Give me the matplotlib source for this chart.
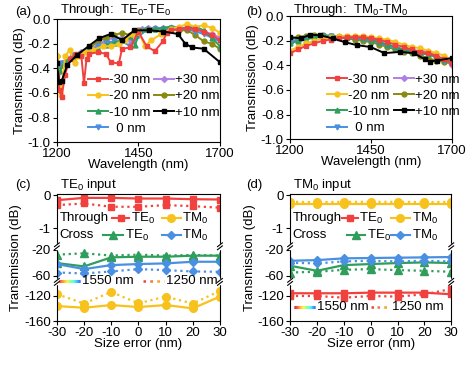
import numpy as np
import matplotlib
matplotlib.use("Agg")
import matplotlib.pyplot as plt
from matplotlib.collections import LineCollection
from matplotlib.ticker import FixedLocator, FixedFormatter

plt.rcParams["font.family"] = ["Liberation Sans", "DejaVu Sans"]
plt.rcParams["mathtext.fontset"] = "custom"
plt.rcParams["mathtext.rm"] = "Liberation Sans"
plt.rcParams["font.size"] = 9.5
plt.rcParams["axes.unicode_minus"] = False
plt.rcParams["xtick.major.size"] = 3
plt.rcParams["ytick.major.size"] = 3
plt.rcParams["xtick.major.pad"] = 1.5
plt.rcParams["ytick.major.pad"] = 1.5

# ---- (a) Through TE0-TE0 spectra ----
wl_a_m30 = [1200, 1208, 1215, 1225, 1240, 1260, 1275, 1283, 1291, 1300, 1325, 1350, 1365,
            1390, 1400, 1425, 1450, 1475, 1500, 1525, 1537, 1550, 1575, 1600, 1625, 1650, 1675, 1700]
t_a_m30 = [-0.45, -0.58, -0.63, -0.45, -0.32, -0.28, -0.30, -0.52, -0.32, -0.28, -0.27, -0.28, -0.35,
           -0.36, -0.24, -0.23, -0.10, -0.22, -0.26, -0.18, -0.11, -0.09, -0.08, -0.07, -0.08, -0.10, -0.13, -0.17]
wl_a_m20 = [1200, 1207, 1213, 1225, 1240, 1255, 1265, 1285, 1310, 1340, 1365, 1390, 1410, 1430,
            1450, 1470, 1490, 1520, 1550, 1575, 1600, 1625, 1650, 1675, 1700]
t_a_m20 = [-0.30, -0.55, -0.62, -0.30, -0.25, -0.36, -0.30, -0.27, -0.25, -0.22, -0.22, -0.20, -0.17, -0.12,
           -0.10, -0.22, -0.17, -0.12, -0.08, -0.06, -0.04, -0.06, -0.05, -0.07, -0.11]
wl_a_m10 = [1200, 1210, 1225, 1250, 1275, 1300, 1325, 1350, 1375, 1400, 1425, 1440, 1455, 1475,
            1500, 1525, 1550, 1575, 1600, 1625, 1650, 1675, 1700]
t_a_m10 = [-0.55, -0.42, -0.35, -0.30, -0.28, -0.26, -0.24, -0.21, -0.19, -0.17, -0.14, -0.21, -0.09, -0.08,
           -0.08, -0.07, -0.06, -0.07, -0.07, -0.06, -0.09, -0.15, -0.22]
wl_a_0 = [1200, 1215, 1230, 1250, 1275, 1300, 1325, 1350, 1375, 1400, 1425, 1450, 1475, 1500,
          1525, 1550, 1575, 1600, 1625, 1650, 1675, 1700]
t_a_0 = [-0.40, -0.36, -0.33, -0.30, -0.28, -0.26, -0.22, -0.19, -0.18, -0.18, -0.22, -0.14, -0.09, -0.08,
         -0.08, -0.07, -0.08, -0.08, -0.10, -0.12, -0.15, -0.18]
wl_a_p30 = [1200, 1215, 1230, 1250, 1275, 1300, 1325, 1350, 1375, 1400, 1425, 1440, 1460, 1480,
            1500, 1525, 1550, 1575, 1600, 1625, 1650, 1675, 1700]
t_a_p30 = [-0.38, -0.36, -0.32, -0.29, -0.27, -0.25, -0.21, -0.17, -0.15, -0.15, -0.17, -0.12, -0.08, -0.07,
           -0.07, -0.07, -0.07, -0.07, -0.08, -0.09, -0.10, -0.12, -0.15]
wl_a_p20 = [1200, 1210, 1225, 1250, 1275, 1300, 1325, 1350, 1375, 1400, 1425, 1450, 1475, 1500,
            1525, 1550, 1575, 1600, 1625, 1650, 1675, 1700]
t_a_p20 = [-0.30, -0.38, -0.36, -0.31, -0.28, -0.24, -0.18, -0.15, -0.13, -0.11, -0.13, -0.09, -0.08, -0.08,
           -0.08, -0.08, -0.09, -0.09, -0.13, -0.18, -0.20, -0.24]
wl_a_p10 = [1200, 1207, 1215, 1232, 1262, 1297, 1329, 1365, 1400, 1438, 1482, 1526, 1571, 1594,
            1615, 1650, 1700]
t_a_p10 = [-0.36, -0.51, -0.50, -0.37, -0.29, -0.22, -0.155, -0.12, -0.17, -0.09, -0.09, -0.10, -0.12, -0.20,
           -0.23, -0.24, -0.35]

# ---- (b) Through TM0-TM0 spectra ----
wl_b = [1200, 1225, 1250, 1275, 1300, 1325, 1350, 1375, 1400, 1425, 1450,
        1475, 1500, 1525, 1550, 1575, 1600, 1625, 1650, 1675, 1700]
t_b_m30 = [-0.30, -0.27, -0.24, -0.22, -0.20, -0.19, -0.18, -0.17, -0.17, -0.17, -0.18,
           -0.19, -0.21, -0.23, -0.25, -0.27, -0.29, -0.30, -0.32, -0.35, -0.38]
t_b_m20 = [-0.28, -0.25, -0.22, -0.20, -0.18, -0.17, -0.16, -0.16, -0.16, -0.16, -0.17,
           -0.18, -0.19, -0.21, -0.23, -0.25, -0.26, -0.28, -0.30, -0.32, -0.36]
t_b_m10 = [-0.22, -0.20, -0.19, -0.17, -0.16, -0.16, -0.16, -0.17, -0.17, -0.18, -0.19,
           -0.21, -0.23, -0.25, -0.27, -0.28, -0.30, -0.31, -0.33, -0.35, -0.37]
t_b_0 = [-0.20, -0.19, -0.18, -0.17, -0.16, -0.16, -0.17, -0.17, -0.18, -0.19, -0.20,
         -0.22, -0.24, -0.26, -0.28, -0.29, -0.30, -0.31, -0.33, -0.36, -0.38]
t_b_p30 = [-0.22, -0.20, -0.18, -0.17, -0.17, -0.17, -0.17, -0.17, -0.17, -0.18, -0.19,
           -0.21, -0.23, -0.25, -0.27, -0.28, -0.28, -0.29, -0.32, -0.36, -0.40]
t_b_p20 = [-0.18, -0.17, -0.16, -0.15, -0.15, -0.16, -0.17, -0.18, -0.19, -0.20, -0.21,
           -0.23, -0.25, -0.27, -0.29, -0.30, -0.32, -0.34, -0.36, -0.37, -0.38]
wl_b_p10 = [1200, 1234, 1261, 1293, 1331, 1368, 1406, 1448, 1491, 1539, 1582, 1615, 1630, 1652, 1700]
t_b_p10 = [-0.17, -0.18, -0.15, -0.155, -0.18, -0.21, -0.235, -0.25, -0.30, -0.29, -0.30, -0.35, -0.37, -0.36, -0.34]

# ---- (c)/(d) size error ----
size_err = [-30, -20, -10, 0, 10, 20, 30]
# (c) TE0 input
c_thr_te_1550 = [-0.15, -0.08, -0.08, -0.10, -0.10, -0.12, -0.13]
c_thr_te_1250 = [-0.30, -0.25, -0.35, -0.35, -0.30, -0.33, -0.38]
c_thr_tm_1550 = [-136, -138.7, -134.4, -137.6, -134.4, -139.7, -121]
c_thr_tm_1250 = [-117, -132, -113.6, -131.7, -121, -132, -112]
c_crs_te_1550 = [-40.5, -45.6, -31.8, -30.8, -30.8, -29.2, -29.2]
c_crs_te_1250 = [-27.7, -25.6, -29.0, -27.7, -29.0, -28.2, -29.0]
c_crs_tm_1550 = [-42.0, -49.7, -43.6, -42.0, -41.0, -38.5, -38.5]
c_crs_tm_1250 = [-54.9, -56.4, -53.3, -49.7, -51.3, -53.3, -53.8]
# (d) TM0 input
d_thr_te_1550 = [-115.7, -115.7, -115.7, -114.7, -114.7, -114.7, -117.3]
d_thr_te_1250 = [-120, -120, -122.7, -120, -121, -117.3, -109]
d_thr_tm_1550 = [-0.28, -0.28, -0.28, -0.28, -0.28, -0.28, -0.28]
d_thr_tm_1250 = [-0.20, -0.21, -0.20, -0.20, -0.20, -0.21, -0.20]
d_crs_te_1550 = [-44.6, -52.3, -43.6, -42.0, -40.5, -39.5, -40.5]
d_crs_te_1250 = [-54.9, -53.8, -50.8, -49.7, -51.3, -52.3, -53.8]
d_crs_tm_1550 = [-37.0, -36.0, -33.3, -32.8, -32.3, -31.8, -31.3]
d_crs_tm_1250 = [-40.0, -41.0, -38.0, -37.0, -38.0, -37.0, -38.0]

RED = "#f0413f"
YEL = "#f7c21b"
GRN = "#2f9e5c"
BLU = "#4a90e2"
PUR = "#b07fe6"
OLV = "#8a8a10"
BLK = "#000000"

# piecewise (broken) y axis for (c)/(d)
BREAK_DB = [-160, -97.6, -69.2, -14.9, -1.55, 0.03]
BREAK_POS = [0, 117, 117.001, 223, 223.001, 378]


def fwd(y):
    return np.interp(y, BREAK_DB, BREAK_POS)


def inv(p):
    return np.interp(p, BREAK_POS, BREAK_DB)


def draw_spectra(ax, curves, bbox):
    handles = {}
    for label, wl, t, col, mk, ms in curves:
        ln, = ax.plot(wl, t, color=col, marker=mk, ms=ms, lw=1.4, label=label)
        handles[label] = ln
    ax.set_xlim(1200, 1700)
    ax.set_ylim(-1.0, 0.0)
    ax.set_xticks([1200, 1450, 1700])
    ax.set_yticks([-1.0, -0.8, -0.6, -0.4, -0.2, 0.0])
    ax.set_yticklabels(["-1.0", "-0.8", "-0.6", "-0.4", "-0.2", "0.0"])
    ax.set_xlabel("Wavelength (nm)", labelpad=-1)
    ax.set_ylabel("Transmission (dB)", labelpad=1)
    order = ["-30 nm", "-20 nm", "-10 nm", "  0 nm", "+30 nm", "+20 nm", "+10 nm"]
    ax.legend([handles[k] for k in order], order, ncol=2, frameon=False,
              loc="lower left", bbox_to_anchor=bbox, borderpad=0, borderaxespad=0,
              handlelength=1.5, handletextpad=0.1, columnspacing=0.3,
              labelspacing=0.3, fontsize=9.5)


def break_marks(ax):
    for yb in [BREAK_POS[1] / BREAK_POS[-1], BREAK_POS[3] / BREAK_POS[-1]]:
        for xb in [0.0, 1.0]:
            ax.plot([xb, xb], [yb - 0.012, yb + 0.012], color="white", lw=2.5,
                    transform=ax.transAxes, clip_on=False, zorder=5)
            for d in [-0.012, 0.012]:
                ax.plot([xb - 0.015, xb + 0.015], [yb + d - 0.015, yb + d + 0.015],
                        color="black", lw=0.8, transform=ax.transAxes,
                        clip_on=False, zorder=6)


def key_line(ax, x0, x1, y, col, mk, ms):
    ax.plot([x0, x1], [y, y], color=col, lw=1.5, transform=ax.transAxes, clip_on=False)
    ax.plot([(x0 + x1) / 2], [y], color=col, marker=mk, ms=ms,
            transform=ax.transAxes, clip_on=False)


def draw_size(ax, s, keys):
    styles = [
        ("thr_te", RED, "s", 5),
        ("thr_tm", YEL, "o", 5.5),
        ("crs_te", GRN, "^", 5.5),
        ("crs_tm", BLU, "D", 4.5),
    ]
    for name, col, mk, ms in styles:
        ax.plot(size_err, s[name + "_1250"], color=col, ls=":", lw=1.6, marker=mk, ms=ms)
        ax.plot(size_err, s[name + "_1550"], color=col, ls="-", lw=1.6, marker=mk, ms=ms)
    ax.set_yscale("function", functions=(fwd, inv))
    ax.set_ylim(-160, 0.03)
    ax.set_xlim(-30, 30)
    ax.set_xticks(size_err)
    ax.yaxis.set_major_locator(FixedLocator([-160, -120, -60, -20, -1, 0]))
    ax.yaxis.set_major_formatter(FixedFormatter(["-160", "-120", "-60", "-20", "-1", "0"]))
    ax.yaxis.set_minor_locator(FixedLocator([]))
    ax.set_xlabel("Size error (nm)", labelpad=-1)
    ax.set_ylabel("Transmission (dB)", labelpad=1)
    break_marks(ax)

    # manual key
    (te_thr, tm_thr, te_crs, tm_crs, rb, dt) = keys
    ax.text(0.015, 0.813, "Through", transform=ax.transAxes, va="center", ha="left")
    ax.text(0.015, 0.677, "Cross", transform=ax.transAxes, va="center", ha="left")
    key_line(ax, te_thr[0], te_thr[1], 0.813, RED, "s", 5)
    ax.text(te_thr[1] + 0.01, 0.813, "TE$_0$", transform=ax.transAxes, va="center")
    key_line(ax, tm_thr[0], tm_thr[1], 0.813, YEL, "o", 5.5)
    ax.text(tm_thr[1] + 0.01, 0.813, "TM$_0$", transform=ax.transAxes, va="center")
    key_line(ax, te_crs[0], te_crs[1], 0.677, GRN, "^", 5.5)
    ax.text(te_crs[1] + 0.01, 0.677, "TE$_0$", transform=ax.transAxes, va="center")
    key_line(ax, tm_crs[0], tm_crs[1], 0.677, BLU, "D", 4.5)
    ax.text(tm_crs[1] + 0.01, 0.677, "TM$_0$", transform=ax.transAxes, va="center")

    yk = rb[2]
    xs = np.linspace(rb[0], rb[1], 25)
    segs = [[(xs[i], yk), (xs[i + 1], yk)] for i in range(len(xs) - 1)]
    cols = plt.cm.jet_r(np.linspace(0.05, 0.8, len(segs)))
    lc = LineCollection(segs, colors=cols, lw=2.2, transform=ax.transAxes, clip_on=False)
    ax.add_collection(lc)
    ax.text(rb[1] + 0.01, yk, "1550 nm", transform=ax.transAxes, va="center")
    xd = np.linspace(dt[0], dt[1], 4)
    dcols = [RED, "#f47a36", "#f6a52c"]
    for i in range(3):
        ax.plot([xd[i], xd[i + 1]], [yk, yk], color=dcols[i], ls=":", lw=1.8,
                transform=ax.transAxes, clip_on=False)
    ax.text(dt[1] + 0.015, yk, "1250 nm", transform=ax.transAxes, va="center")


fig = plt.figure(figsize=(4.74, 3.70), dpi=100)
ax_a = fig.add_axes([0.120, 0.616, 0.344, 0.332])
ax_b = fig.add_axes([0.612, 0.624, 0.342, 0.332])
ax_c = fig.add_axes([0.120, 0.132, 0.344, 0.343])
ax_d = fig.add_axes([0.612, 0.132, 0.340, 0.343])

curves_a = [
    ("+30 nm", wl_a_p30, t_a_p30, PUR, "D", 3),
    ("+20 nm", wl_a_p20, t_a_p20, OLV, "o", 3.5),
    ("  0 nm", wl_a_0, t_a_0, BLU, "v", 3.5),
    ("-10 nm", wl_a_m10, t_a_m10, GRN, "^", 3.5),
    ("-20 nm", wl_a_m20, t_a_m20, YEL, "o", 3.5),
    ("-30 nm", wl_a_m30, t_a_m30, RED, "s", 3),
    ("+10 nm", wl_a_p10, t_a_p10, BLK, "s", 3),
]
draw_spectra(ax_a, curves_a, (0.19, 0.06))

curves_b = [
    ("+30 nm", wl_b, t_b_p30, PUR, "D", 3),
    ("+20 nm", wl_b, t_b_p20, OLV, "o", 3.5),
    ("  0 nm", wl_b, t_b_0, BLU, "v", 3.5),
    ("-10 nm", wl_b, t_b_m10, GRN, "^", 3.5),
    ("-20 nm", wl_b, t_b_m20, YEL, "o", 3.5),
    ("-30 nm", wl_b, t_b_m30, RED, "s", 3),
    ("+10 nm", wl_b_p10, t_b_p10, BLK, "s", 3),
]
draw_spectra(ax_b, curves_b, (0.23, 0.04))

series_c = dict(thr_te_1550=c_thr_te_1550, thr_te_1250=c_thr_te_1250,
                thr_tm_1550=c_thr_tm_1550, thr_tm_1250=c_thr_tm_1250,
                crs_te_1550=c_crs_te_1550, crs_te_1250=c_crs_te_1250,
                crs_tm_1550=c_crs_tm_1550, crs_tm_1250=c_crs_tm_1250)
draw_size(ax_c, series_c, ((0.34, 0.445), (0.642, 0.759), (0.284, 0.407),
                           (0.642, 0.759), (0.0, 0.142, 0.315), (0.531, 0.654)))

series_d = dict(thr_te_1550=d_thr_te_1550, thr_te_1250=d_thr_te_1250,
                thr_tm_1550=d_thr_tm_1550, thr_tm_1250=d_thr_tm_1250,
                crs_te_1550=d_crs_te_1550, crs_te_1250=d_crs_te_1250,
                crs_tm_1550=d_crs_tm_1550, crs_tm_1250=d_crs_tm_1250)
draw_size(ax_d, series_d, ((0.32, 0.42), (0.625, 0.745), (0.355, 0.465),
                           (0.625, 0.745), (0.025, 0.155, 0.11), (0.50, 0.62)))

# panel tags and titles
fig.text(15 / 474, 1 - 12 / 370, "(a)", va="center", ha="left")
fig.text(60 / 474, 1 - 10 / 370, "Through:  TE$_0$-TE$_0$", va="center", ha="left")
fig.text(246 / 474, 1 - 12 / 370, "(b)", va="center", ha="left")
fig.text(293 / 474, 1 - 10 / 370, "Through:  TM$_0$-TM$_0$", va="center", ha="left")
fig.text(15 / 474, 1 - 185 / 370, "(c)", va="center", ha="left")
fig.text(60 / 474, 1 - 185 / 370, "TE$_0$ input", va="center", ha="left")
fig.text(246 / 474, 1 - 185 / 370, "(d)", va="center", ha="left")
fig.text(293 / 474, 1 - 185 / 370, "TM$_0$ input", va="center", ha="left")

fig.savefig("out.png", dpi=100)
